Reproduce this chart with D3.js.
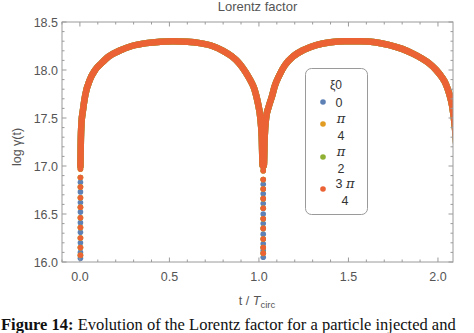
<!DOCTYPE html>
<html>
<head>
<meta charset="utf-8">
<script src="https://cdn.jsdelivr.net/npm/d3@7"></script>
<style>
  body { margin: 0; background: #fff; }
  svg { display: block; }
</style>
</head>
<body>
<svg id="chart" width="474" height="333"></svg>
<script>
// ---- data ----
const xTicks = [0, 0.5, 1, 1.5, 2];
const xTickLabels = ["0.0", "0.5", "1.0", "1.5", "2.0"];
const yTicks = [16, 16.5, 17, 17.5, 18, 18.5];
const yTickLabels = ["16.0", "16.5", "17.0", "17.5", "18.0", "18.5"];

// initial phase ξ0 of each run, legend label as coefficient · π / denominator
const seriesCoef = ["0", "", "", "3"];
const seriesDen = ["", "4", "2", "4"];
const seriesColors = ["#5e81b5", "#e19c24", "#8fb032", "#eb6235"];

// densely sampled part of the trajectories: time in units of T_circ and log γ
const tBand = [0.003, 0.005, 0.009, 0.017, 0.030, 0.056, 0.085, 0.120, 0.160, 0.220,
  0.290, 0.370, 0.450, 0.520, 0.600, 0.670, 0.740, 0.800, 0.850, 0.890,
  0.925, 0.950, 0.975, 0.995, 1.008, 1.016, 1.021,
  1.027, 1.032, 1.040, 1.055, 1.072, 1.088, 1.115, 1.145, 1.190, 1.250,
  1.320, 1.400, 1.480, 1.570, 1.650, 1.730, 1.800, 1.860, 1.910, 1.950,
  1.990, 2.020, 2.045, 2.065, 2.080, 2.095, 2.105];
const logGammaBand = [17.00, 17.25, 17.45, 17.58, 17.74, 17.90, 18.00, 18.07, 18.14, 18.20,
  18.25, 18.28, 18.295, 18.30, 18.295, 18.28, 18.25, 18.20, 18.14, 18.07,
  17.98, 17.90, 17.80, 17.65, 17.50, 17.30, 17.00,
  17.00, 17.30, 17.50, 17.62, 17.72, 17.83, 17.95, 18.05, 18.14, 18.21,
  18.26, 18.29, 18.30, 18.30, 18.29, 18.26, 18.22, 18.17, 18.12, 18.07,
  18.00, 17.93, 17.85, 17.74, 17.62, 17.40, 17.15];

// sparse samples around the two minima (t ≈ 0 and t ≈ 1.024)
const dipT = [0.003, 1.024];
const dipXi0 = [
  [16.04, 16.10, 16.20, 16.31, 16.41, 16.52, 16.62, 16.73, 16.83],
  [16.05, 16.12, 16.19, 16.29, 16.40, 16.50, 16.61, 16.71, 16.81]
];
const dipXi3q = [
  [16.07, 16.15, 16.25, 16.36, 16.46, 16.57, 16.67, 16.78, 16.88, 16.97],
  [16.09, 16.15, 16.24, 16.35, 16.45, 16.56, 16.66, 16.76, 16.86, 16.95]
];
// the π/4 and π/2 runs coincide with the 3π/4 run at this resolution
const dipXiQ = dipXi3q;
const dipXiH = dipXi3q;
const seriesDips = [dipXi0, dipXiQ, dipXiH, dipXi3q];

// ---- layout ----
const frame = { left: 62, right: 453, top: 22, bottom: 262 };
const svg = d3.select("#chart");
const x = d3.scaleLinear().domain([-0.1, 2.084]).range([frame.left, frame.right]);
const y = d3.scaleLinear().domain([16, 18.5]).range([frame.bottom, frame.top]);

const frameColor = "#9a9a9a";
const textColor = "#555";
const font = "Liberation Sans, Arial, sans-serif";

svg.append("defs").append("clipPath").attr("id", "plotClip")
  .append("rect")
  .attr("x", frame.left).attr("y", frame.top)
  .attr("width", frame.right - frame.left).attr("height", frame.bottom - frame.top);

// title
svg.append("text")
  .attr("x", (frame.left + frame.right) / 2).attr("y", 10.5)
  .attr("text-anchor", "middle")
  .style("font", `13px ${font}`).attr("fill", textColor)
  .text("Lorentz factor");

// ---- data marks ----
const plot = svg.append("g").attr("clip-path", "url(#plotClip)");
const bandPoints = tBand.map((t, i) => [t, logGammaBand[i]]);
const line = d3.line().x(d => x(d[0])).y(d => y(d[1])).curve(d3.curveMonotoneX);

seriesColors.forEach((color, s) => {
  const g = plot.append("g");
  g.append("path")
    .datum(bandPoints)
    .attr("d", line)
    .attr("fill", "none")
    .attr("stroke", color)
    .attr("stroke-width", 6.5)
    .attr("stroke-linecap", "round")
    .attr("stroke-linejoin", "round");
  seriesDips[s].forEach((vals, k) => {
    g.selectAll(null)
      .data(vals)
      .join("circle")
      .attr("cx", x(dipT[k]))
      .attr("cy", d => y(d))
      .attr("r", 2.8)
      .attr("fill", color);
  });
});

// ---- frame, ticks ----
const axes = svg.append("g");
axes.append("rect")
  .attr("x", frame.left).attr("y", frame.top)
  .attr("width", frame.right - frame.left).attr("height", frame.bottom - frame.top)
  .attr("fill", "none").attr("stroke", frameColor).attr("stroke-width", 1);

const xMinor = d3.range(-1, 21).map(i => i / 10);
const yMinor = d3.range(160, 186).map(i => i / 10);
const isMajorX = v => xTicks.some(m => Math.abs(m - v) < 1e-9);
const isMajorY = v => yTicks.some(m => Math.abs(m - v) < 1e-9);

xMinor.forEach(v => {
  const len = isMajorX(v) ? 4.5 : 2.5;
  const px = x(v);
  axes.append("line").attr("x1", px).attr("x2", px)
    .attr("y1", frame.bottom).attr("y2", frame.bottom - len)
    .attr("stroke", frameColor);
  axes.append("line").attr("x1", px).attr("x2", px)
    .attr("y1", frame.top).attr("y2", frame.top + len)
    .attr("stroke", frameColor);
});
yMinor.forEach(v => {
  const len = isMajorY(v) ? 4.5 : 2.5;
  const py = y(v);
  axes.append("line").attr("y1", py).attr("y2", py)
    .attr("x1", frame.left).attr("x2", frame.left + len)
    .attr("stroke", frameColor);
  axes.append("line").attr("y1", py).attr("y2", py)
    .attr("x1", frame.right).attr("x2", frame.right - len)
    .attr("stroke", frameColor);
});

// tick labels
axes.selectAll(null).data(xTicks).join("text")
  .attr("x", d => x(d)).attr("y", 281)
  .attr("text-anchor", "middle")
  .style("font", `12.5px ${font}`).attr("fill", textColor)
  .text((d, i) => xTickLabels[i]);
axes.selectAll(null).data(yTicks).join("text")
  .attr("x", 58).attr("y", d => y(d) + 4.5)
  .attr("text-anchor", "end")
  .style("font", `12.5px ${font}`).attr("fill", textColor)
  .text((d, i) => yTickLabels[i]);

// axis labels
const xl = svg.append("text")
  .attr("x", 257).attr("y", 305)
  .attr("text-anchor", "middle")
  .style("font", `12.5px ${font}`).attr("fill", textColor);
xl.append("tspan").text("t / ");
xl.append("tspan").attr("font-style", "italic").text("T");
xl.append("tspan").attr("dy", 3).style("font-size", "9.5px").text("circ");

svg.append("text")
  .attr("transform", "translate(21,147) rotate(-90)")
  .attr("text-anchor", "middle")
  .style("font", `12.5px ${font}`).attr("fill", textColor)
  .text("log γ(t)");

// ---- legend ----
const legend = svg.append("g");
legend.append("rect")
  .attr("x", 305.5).attr("y", 68.5).attr("width", 62).attr("height", 146)
  .attr("rx", 6).attr("ry", 6)
  .attr("fill", "#fff").attr("stroke", frameColor);
const lt = legend.append("text")
  .attr("x", 336).attr("y", 89)
  .attr("text-anchor", "middle")
  .style("font", `12px ${font}`).attr("fill", "#333");
lt.append("tspan").text("ξ");
lt.append("tspan").text("0");

const legendDotY = [102, 124, 157, 189];
seriesColors.forEach((color, s) => {
  const cy = legendDotY[s];
  legend.append("circle").attr("cx", 323).attr("cy", cy).attr("r", 2.8).attr("fill", color);
  if (seriesDen[s] === "") {
    legend.append("text").attr("x", 339).attr("y", cy + 4.5)
      .attr("text-anchor", "middle")
      .style("font", `12.5px ${font}`).attr("fill", "#333")
      .text(seriesCoef[s]);
  } else {
    const cx = seriesCoef[s] ? 345 : 341;
    const num = legend.append("text").attr("x", cx).attr("y", cy - 1.5)
      .attr("text-anchor", "middle")
      .attr("fill", "#333");
    if (seriesCoef[s]) {
      num.append("tspan").style("font", `12.5px ${font}`).text(seriesCoef[s] + " ");
    }
    num.append("tspan").style("font", `italic 13px DejaVu Serif, serif`).text("π");
    legend.append("text").attr("x", cx).attr("y", cy + 16)
      .attr("text-anchor", "middle")
      .style("font", `12.5px ${font}`).attr("fill", "#333")
      .text(seriesDen[s]);
  }
});

// ---- caption ----
const cap = svg.append("text")
  .attr("x", 1).attr("y", 330)
  .style("font", "16.5px Liberation Serif, Times New Roman, serif").attr("fill", "#111");
cap.append("tspan").attr("font-weight", "bold").text("Figure 14:");
cap.append("tspan").text(" Evolution of the Lorentz factor for a particle injected and");
</script>
</body>
</html>
